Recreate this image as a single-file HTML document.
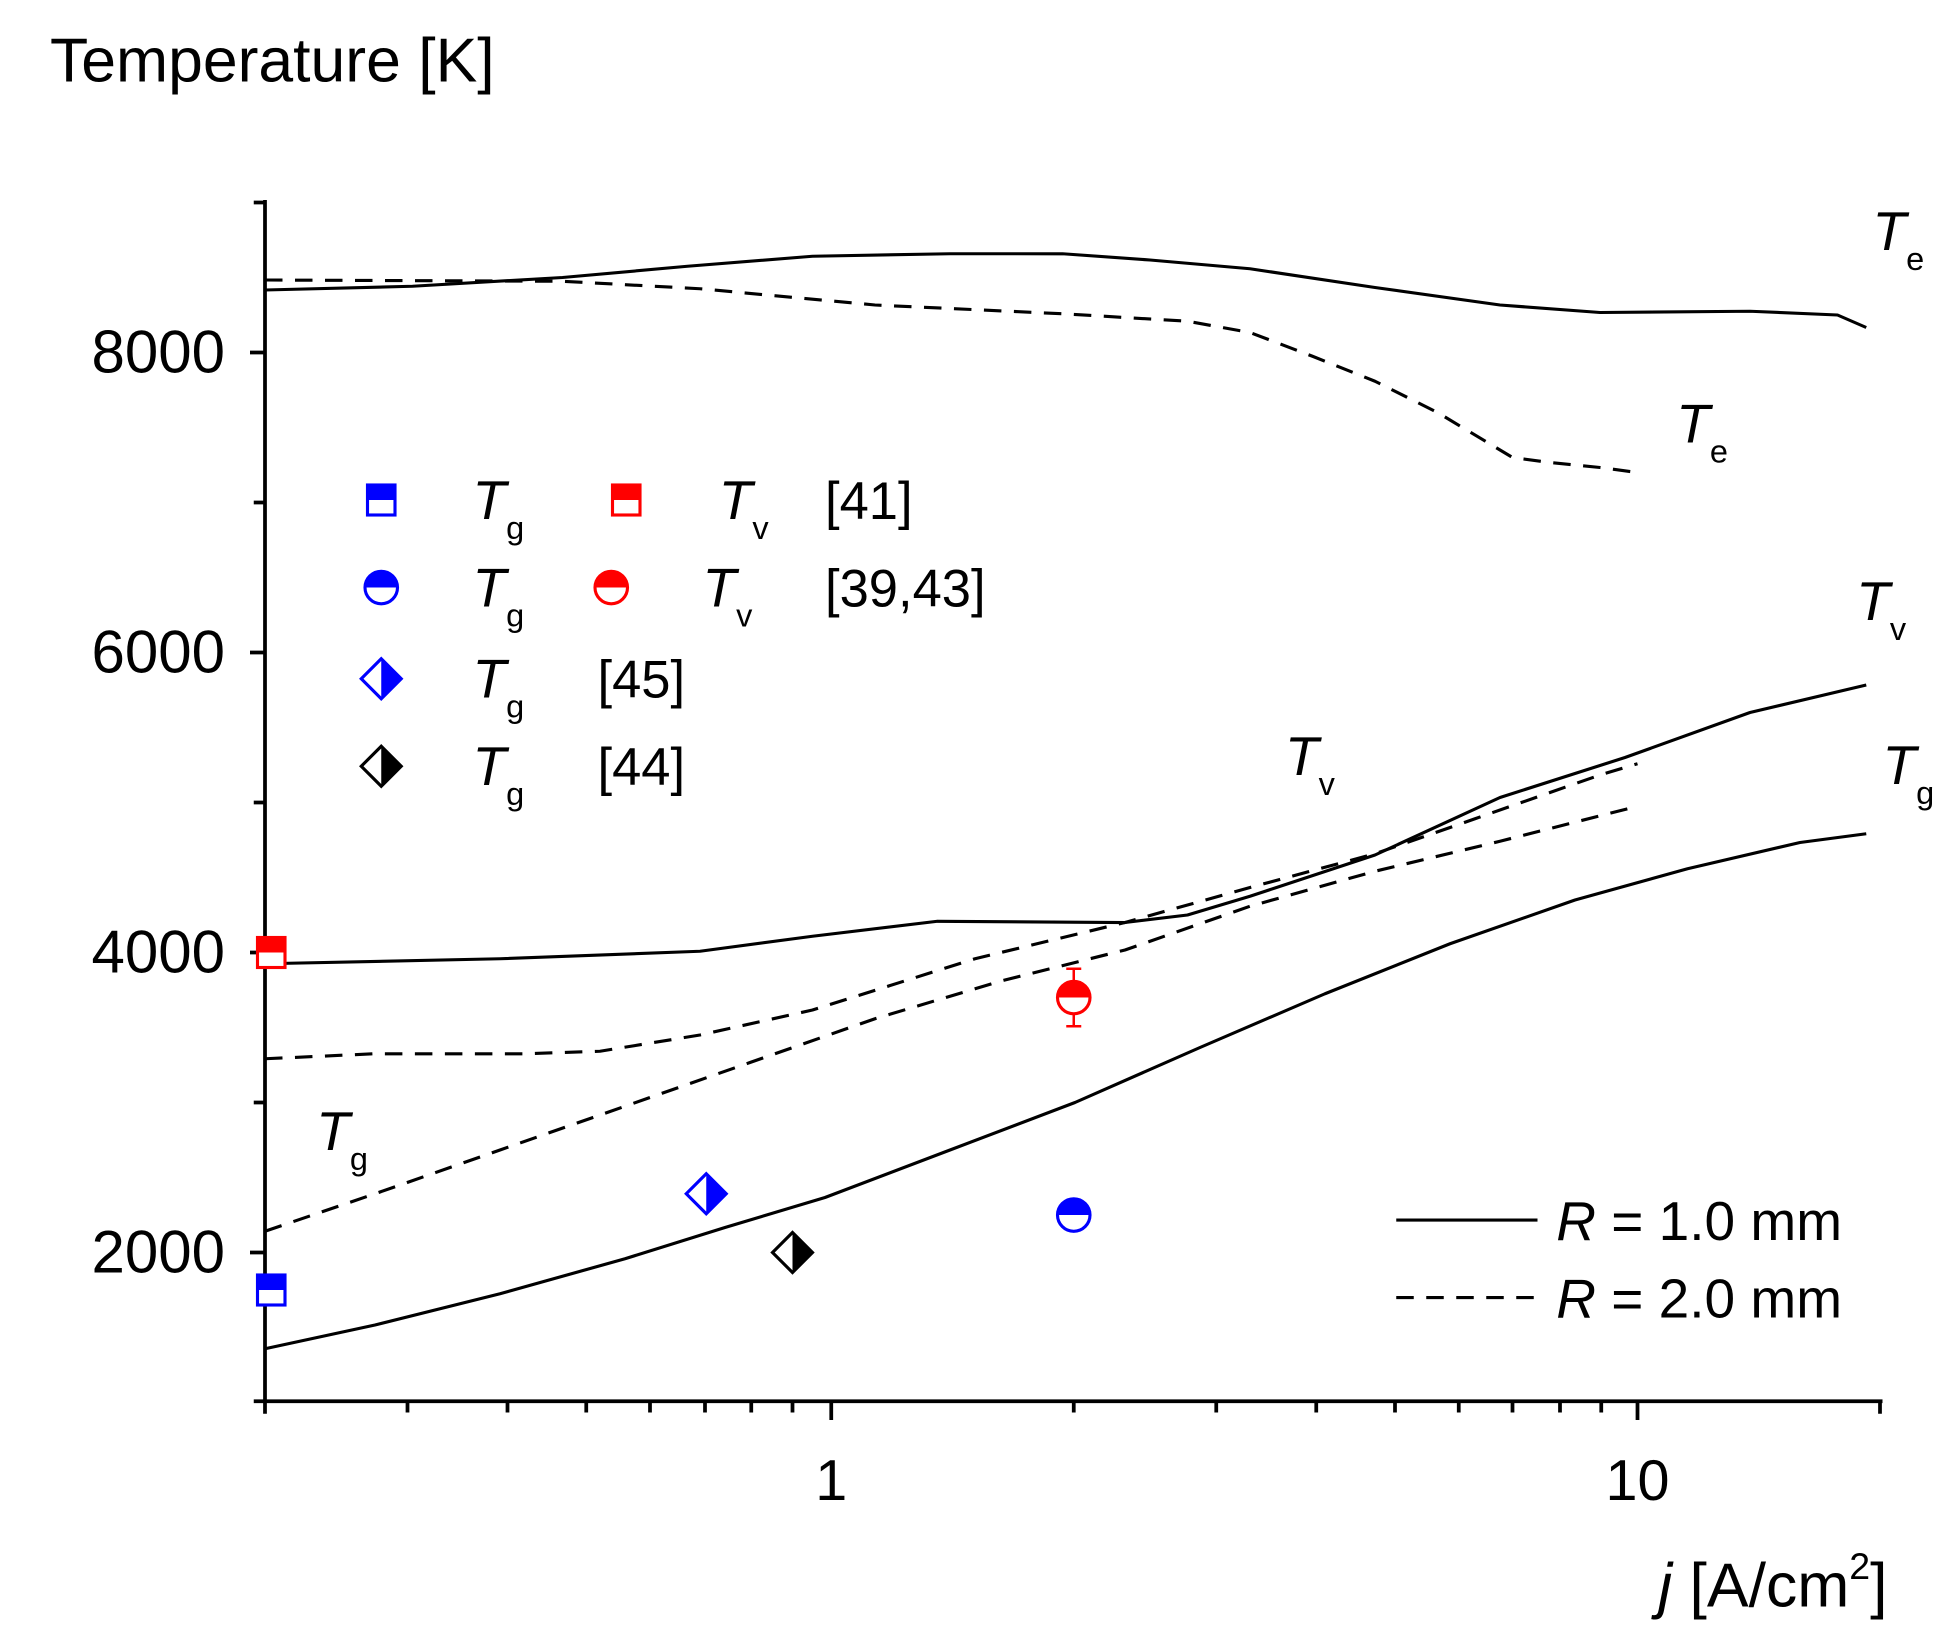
<!DOCTYPE html>
<html><head><meta charset="utf-8"><style>html,body{margin:0;padding:0;background:#fff}svg{display:block}</style></head>
<body>
<svg width="1955" height="1648" viewBox="0 0 1564 1318.4" preserveAspectRatio="none" font-family="Liberation Sans, Arial, sans-serif">
<rect width="1564" height="1319" fill="#fff"/>
<g stroke="#000" stroke-width="3" fill="none">
<line x1="212" y1="160" x2="212" y2="1122"/>
<line x1="211" y1="1121" x2="1506" y2="1121"/>
<path d="M203 162H212M200 282H212M203 402H212M200 522H212M203 642H212M200 762H212M203 882H212M200 1002H212M203 1121H212"/>
<path d="M212 1121v10M326 1121v9M406 1121v9M469 1121v9M520 1121v9M564 1121v9M601 1121v9M634 1121v9M665 1121v15M859 1121v9M973 1121v9M1053 1121v9M1116 1121v9M1167 1121v9M1210 1121v9M1248 1121v9M1281 1121v9M1310 1121v15M1504 1121v10"/>
</g>
<g stroke="#000" stroke-width="2.5" fill="none" stroke-linejoin="round">
<path d="M212,232 L330,229 L450,222 L550,213 L650,205 L760,203 L850,203 L920,208 L1000,215 L1100,230 L1200,244 L1280,250 L1400,249 L1470,252 L1493,262"/>
<path d="M212,771 L400,767 L560,761 L650,749 L750,737 L900,738 L950,732 L1000,717 L1100,684 L1200,638 L1300,606 L1400,570 L1493,548"/>
<path d="M212,1079 L300,1060 L400,1035 L500,1007 L580,982 L660,958 L760,920 L860,882 L960,838 L1060,795 L1160,755 L1260,720 L1350,695 L1440,674 L1493,667"/>
<g stroke-dasharray="14,10">
<path d="M212,224 L450,225 L560,231 L700,244 L850,251 L950,257 L1000,266 L1050,285 L1100,305 L1150,330 L1210,366 L1240,370 L1280,374 L1310,378"/>
<path d="M212,847 L300,843 L420,843 L480,841 L560,828 L650,808 L780,767 L900,738 L1000,710 L1100,683 L1180,655 L1240,634 L1280,620 L1310,611"/>
<path d="M212,985 L300,955 L400,920 L500,885 L600,850 L700,815 L800,785 L900,760 L1000,725 L1100,697 L1200,673 L1310,645"/>
<line x1="1117" y1="1038" x2="1230" y2="1038"/>
</g>
<line x1="1117" y1="976" x2="1230" y2="976"/>
</g>
<g font-size="48" fill="#000" text-anchor="end">
<text x="180" y="298">8000</text><text x="180" y="538">6000</text><text x="180" y="778">4000</text><text x="180" y="1018">2000</text>
</g>
<g font-size="46" fill="#000" text-anchor="middle"><text x="665" y="1200">1</text><text x="1310" y="1200">10</text></g>
<text x="40" y="65" font-size="50">Temperature [K]</text>
<text x="1510" y="1285" font-size="50" text-anchor="end"><tspan font-style="italic">j</tspan> [A/cm<tspan font-size="30" dy="-22">2</tspan><tspan dy="22">]</tspan></text>
<g font-size="44"><text x="1245" y="992"><tspan font-style="italic">R</tspan> = 1.0 mm</text><text x="1245" y="1054"><tspan font-style="italic">R</tspan> = 2.0 mm</text></g>
<g font-size="44" font-style="italic">
<text x="1498" y="200">T<tspan font-size="26" font-style="normal" dy="16">e</tspan></text>
<text x="1341" y="354">T<tspan font-size="26" font-style="normal" dy="16">e</tspan></text>
<text x="1485" y="496">T<tspan font-size="26" font-style="normal" dy="16">v</tspan></text>
<text x="1028" y="620">T<tspan font-size="26" font-style="normal" dy="16">v</tspan></text>
<text x="1506" y="627">T<tspan font-size="26" font-style="normal" dy="16">g</tspan></text>
<text x="253" y="920">T<tspan font-size="26" font-style="normal" dy="16">g</tspan></text>
<text x="378" y="415">T<tspan font-size="26" font-style="normal" dy="16">g</tspan></text>
<text x="575" y="415">T<tspan font-size="26" font-style="normal" dy="16">v</tspan></text>
<text x="378" y="485">T<tspan font-size="26" font-style="normal" dy="16">g</tspan></text>
<text x="562" y="485">T<tspan font-size="26" font-style="normal" dy="16">v</tspan></text>
<text x="378" y="558">T<tspan font-size="26" font-style="normal" dy="16">g</tspan></text>
<text x="378" y="628">T<tspan font-size="26" font-style="normal" dy="16">g</tspan></text>
</g>
<g font-size="42"><text x="660" y="415">[41]</text><text x="660" y="485">[39,43]</text><text x="478" y="558">[45]</text><text x="478" y="628">[44]</text></g>
<defs>
<g id="sq"><rect x="-11" y="-12" width="22" height="24" fill="#fff" stroke-width="2.5"/><rect x="-11" y="-12" width="22" height="12" stroke="none"/></g>
<g id="ci"><circle r="13" fill="#fff" stroke-width="2.5"/><path d="M-13,0A13,13 0 0 1 13,0Z" stroke="none"/></g>
<g id="di"><path d="M0,-16L16,0L0,16L-16,0Z" fill="#fff" stroke-width="2.5"/><path d="M0,-16L16,0L0,16Z" stroke="none"/></g>
</defs>
<use href="#sq" x="305" y="400" fill="#00f" stroke="#00f"/>
<use href="#sq" x="501" y="400" fill="#f00" stroke="#f00"/>
<use href="#ci" x="305" y="470" fill="#00f" stroke="#00f"/>
<use href="#ci" x="489" y="470" fill="#f00" stroke="#f00"/>
<use href="#di" x="305" y="543" fill="#00f" stroke="#00f"/>
<use href="#di" x="305" y="613" fill="#000" stroke="#000"/>
<use href="#sq" x="217" y="1032" fill="#00f" stroke="#00f"/>
<use href="#sq" x="217" y="762" fill="#f00" stroke="#f00"/>
<path d="M859,775V821M853,775H865M853,821H865" stroke="#f00" stroke-width="2"/>
<use href="#ci" x="859" y="798" fill="#f00" stroke="#f00"/>
<use href="#ci" x="859" y="972" fill="#00f" stroke="#00f"/>
<use href="#di" x="565" y="955" fill="#00f" stroke="#00f"/>
<use href="#di" x="634" y="1002" fill="#000" stroke="#000"/>
</svg>
</body></html>
